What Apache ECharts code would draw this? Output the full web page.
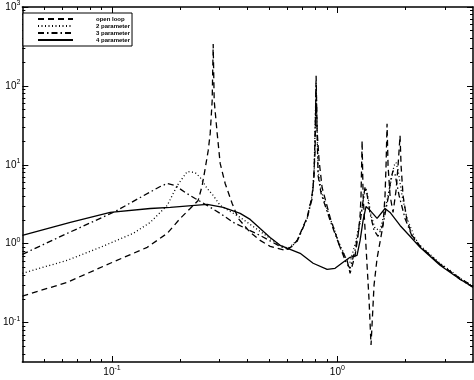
<!DOCTYPE html>
<html><head><meta charset="utf-8">
<script src="https://cdn.jsdelivr.net/npm/echarts@6/dist/echarts.min.js"></script>
<style>html,body{margin:0;padding:0;background:#fff}#c{width:474px;height:380px}</style>
</head><body><div id="c"></div>
<script>
const seriesNames = ['open loop', '2 parameter', '3 parameter', '4 parameter'];

const openFreq = [0.04,0.0633,0.0982,0.1433,0.1758,0.2008,0.2223,0.2412,0.2513,0.2591,0.2672,0.2727,0.2783,0.2812,0.2841,0.293,0.302,0.3178,0.3414,0.363,0.4103,0.4543,0.5031,0.5864,0.630,0.6631,0.7343,0.765,0.7807,0.7967,0.805,0.8132,0.830,0.8557,0.9288,1.0285,1.1047,1.139,1.199,1.236,1.262,1.274,1.288,1.301,1.328,1.355,1.383,1.411,1.455,1.501,1.595,1.628,1.645,1.662,1.679,1.714,1.767,1.822,1.860,1.898,1.918,1.957,2.038,2.145,2.328,2.578,2.856,3.162,3.503,4.0];
const openMag  = [0.216,0.324,0.564,0.898,1.35,2.09,2.79,3.53,5.46,8.95,15.1,24.8,64.8,340,64.8,24.8,10.4,5.79,3.23,2.09,1.39,1.10,0.925,0.823,0.925,1.10,2.15,3.53,5.15,15.1,134,27.1,11.3,5.15,2.15,0.898,0.615,0.421,0.711,1.27,2.28,4.08,20.2,4.08,1.47,0.532,0.192,0.0518,0.297,0.652,1.70,4.08,9.77,33.2,9.77,4.08,2.49,4.72,9.77,23.4,9.77,4.08,1.97,1.27,0.925,0.711,0.548,0.447,0.364,0.289];

const twoFreq = [0.04,0.0633,0.0887,0.1242,0.1478,0.1758,0.1948,0.2157,0.2339,0.2462,0.2645,0.2812,0.302,0.3704,0.4543,0.5573,0.605,0.6631,0.7343,0.773,0.7887,0.805,0.8215,0.847,0.9288,1.0285,1.093,1.139,1.211,1.274,1.314,1.341,1.369,1.411,1.470,1.547,1.628,1.714,1.785,1.822,1.860,1.937,2.038,2.212,2.328,2.578,2.856,3.162,3.503,4.0];
const twoMag  = [0.421,0.615,0.898,1.35,1.86,3.05,5.46,8.21,7.97,6.89,5.00,4.08,3.05,2.15,1.43,0.952,0.872,1.10,2.09,4.08,8.45,109,8.45,4.72,2.09,0.952,0.652,0.580,1.10,2.28,4.08,5.00,3.85,2.28,1.56,1.47,2.64,5.46,9.77,10.7,8.45,4.08,2.09,1.17,0.952,0.732,0.564,0.460,0.364,0.289];

const threeFreq = [0.04,0.0633,0.1034,0.1334,0.1637,0.1758,0.1908,0.2113,0.2339,0.2645,0.302,0.3449,0.4543,0.5573,0.605,0.6631,0.7343,0.773,0.7887,0.805,0.8215,0.847,0.9288,1.0285,1.093,1.139,1.199,1.262,1.301,1.328,1.355,1.397,1.455,1.516,1.595,1.679,1.731,1.767,1.804,1.879,1.997,2.145,2.328,2.578,2.856,3.162,3.503,4.0];
const threeMag  = [0.732,1.35,2.56,3.85,5.30,5.79,5.46,4.45,3.74,3.05,2.42,1.86,1.27,0.925,0.847,1.07,2.09,3.74,7.30,91.9,7.30,4.32,1.97,0.898,0.580,0.487,0.823,1.86,3.53,5.30,4.20,2.42,1.47,1.24,1.75,3.74,6.69,8.45,7.52,4.08,2.09,1.24,0.925,0.711,0.548,0.447,0.354,0.280];

const fourFreq = [0.04,0.0653,0.0982,0.1478,0.1813,0.2645,0.3114,0.3704,0.4103,0.4543,0.5031,0.5573,0.6838,0.7807,0.9007,0.9772,1.0605,1.139,1.223,1.262,1.301,1.341,1.397,1.501,1.628,1.714,1.898,2.101,2.328,2.578,2.856,3.162,3.503,4.0];
const fourMag  = [1.27,1.86,2.49,2.79,2.88,3.14,2.88,2.42,2.03,1.56,1.20,0.952,0.754,0.564,0.473,0.487,0.580,0.671,0.711,1.10,1.97,2.96,2.64,2.09,2.79,2.49,1.70,1.24,0.898,0.691,0.532,0.434,0.354,0.280];

const xRange = [0.04, 4];
const yRange = [0.0316, 1000];
const xMajorTicks = [0.1, 1];
const xMinorTicks = [0.05,0.06,0.07,0.08,0.09,0.2,0.3,0.4,0.5,0.6,0.7,0.8,0.9,2,3];
const yMajorTicks = [0.1, 1, 10, 100, 1000];
const yMinorTicks = [0.04,0.05,0.06,0.07,0.08,0.09,0.2,0.3,0.4,0.5,0.6,0.7,0.8,0.9,2,3,4,5,6,7,8,9,20,30,40,50,60,70,80,90,200,300,400,500,600,700,800,900];

const pairs = (f, m) => f.map((v, i) => [v, m[i]]);
const lab = v => {
  const e = Math.log10(v);
  const r = Math.round(e);
  if (Math.abs(e - r) > 1e-6) return '';
  return '{b|10}{s|' + r + '}';
};
const rich = {
  b: {fontSize: 10, fontFamily: 'Liberation Sans', color: '#000'},
  s: {fontSize: 7, fontFamily: 'Liberation Sans', color: '#000', padding: [0, 0, 7, 0]}
};
const lineAx = {show: true, lineStyle: {color: '#000', width: 1.5}};

function xAx(pos, ticks, len, labels, line) {
  return {
    type: 'log', logBase: 10, min: xRange[0], max: xRange[1], position: pos,
    axisLine: line ? lineAx : {show: false},
    axisTick: {show: true, inside: true, length: len, customValues: ticks, lineStyle: {color: '#000', width: 1}},
    axisLabel: labels ? {show: true, customValues: ticks, formatter: lab, rich: rich, margin: 3} : {show: false},
    splitLine: {show: false}, minorTick: {show: false}
  };
}
function yAx(pos, ticks, len, labels, line) {
  return {
    type: 'log', logBase: 10, min: yRange[0], max: yRange[1], position: pos,
    axisLine: line ? lineAx : {show: false},
    axisTick: {show: true, inside: true, length: len, customValues: ticks, lineStyle: {color: '#000', width: 1}},
    axisLabel: labels ? {show: true, customValues: ticks, formatter: lab, rich: rich, margin: 2} : {show: false},
    splitLine: {show: false}, minorTick: {show: false}
  };
}

const styles = [
  {type: [6, 4]},
  {type: [1, 2.5]},
  {type: [6, 3, 1.5, 3]},
  {type: 'solid'}
];
const datas = [pairs(openFreq, openMag), pairs(twoFreq, twoMag), pairs(threeFreq, threeMag), pairs(fourFreq, fourMag)];

const chart = echarts.init(document.getElementById('c'), null, {renderer: 'canvas'});
chart.setOption({
  animation: false,
  backgroundColor: '#fff',
  grid: {left: 22, right: 1, top: 6, bottom: 18, containLabel: false},
  legend: {
    orient: 'vertical', left: 23, top: 13,
    itemWidth: 35, itemHeight: 6, itemGap: 1,
    padding: [3, 2, 3, 14],
    borderColor: '#000', borderWidth: 1, backgroundColor: '#fff',
    itemStyle: {opacity: 0, borderWidth: 0},
    textStyle: {fontSize: 6, fontWeight: 'bold', fontFamily: 'Liberation Sans', color: '#000', padding: [0, 0, 0, 18], lineHeight: 6},
    data: seriesNames
  },
  xAxis: [
    xAx('bottom', xMajorTicks, 6, true, true),
    xAx('bottom', xMinorTicks, 3, false, false),
    xAx('top', xMajorTicks, 6, false, true),
    xAx('top', xMinorTicks, 3, false, false)
  ],
  yAxis: [
    yAx('left', yMajorTicks, 6, true, true),
    yAx('left', yMinorTicks, 3, false, false),
    yAx('right', yMajorTicks, 6, false, true),
    yAx('right', yMinorTicks, 3, false, false)
  ],
  series: seriesNames.map((n, i) => ({
    name: n, type: 'line', xAxisIndex: 0, yAxisIndex: 0,
    data: datas[i], symbol: 'none', smooth: false,
    lineStyle: Object.assign({color: '#000', width: 1.3}, styles[i]),
    itemStyle: {color: '#000'}
  }))
});
</script></body></html>
